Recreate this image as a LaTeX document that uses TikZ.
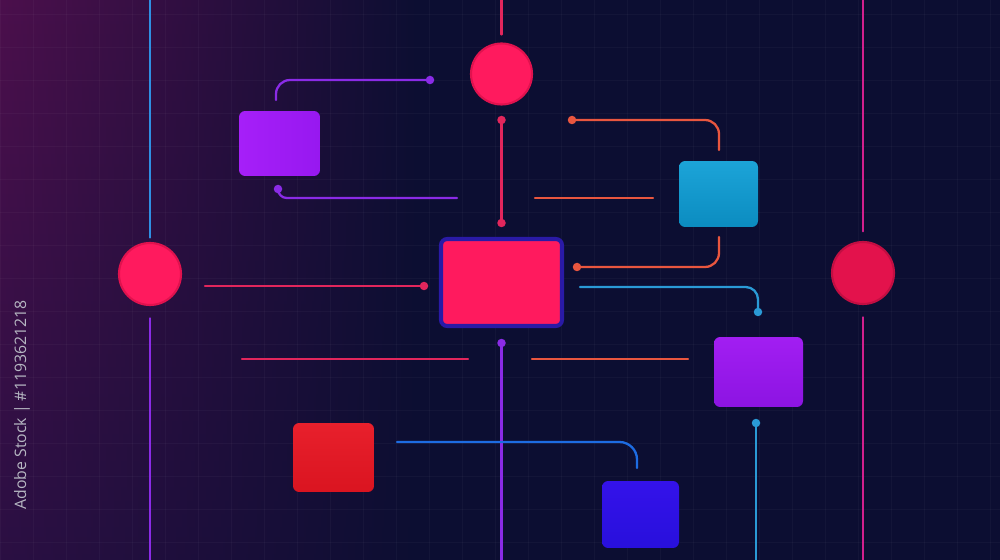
\documentclass[tikz,border=0pt]{standalone}
\usepackage{fontspec}
\newfontfamily\stampfont{Open Sans}
\definecolor{navy}{HTML}{0C0E32}
\definecolor{plumtop}{HTML}{5E1054}
\definecolor{plumbot}{HTML}{341048}
\definecolor{hotpink}{HTML}{FF1A5E}
\definecolor{pinkrim}{HTML}{E0124E}
\definecolor{crimson}{HTML}{E3124C}
\definecolor{crimrim}{HTML}{C20E42}
\definecolor{rim}{HTML}{2A1AA6}
\definecolor{violetA}{HTML}{A61FF8}
\definecolor{violetB}{HTML}{9718F0}
\definecolor{skyA}{HTML}{1CA4D8}
\definecolor{skyB}{HTML}{0B8CC0}
\definecolor{purpA}{HTML}{A21EF2}
\definecolor{purpB}{HTML}{8C14E2}
\definecolor{rubyA}{HTML}{E8202C}
\definecolor{rubyB}{HTML}{DA1420}
\definecolor{indigoA}{HTML}{3412EA}
\definecolor{indigoB}{HTML}{2810DC}
\definecolor{wireblue}{HTML}{2F8FE3}
\definecolor{wirevio}{HTML}{8A2BE6}
\definecolor{wirepink}{HTML}{E2265C}
\definecolor{wireorange}{HTML}{E9563F}
\definecolor{wirecyan}{HTML}{2A9AD6}
\definecolor{wiremag}{HTML}{D2208E}
\usetikzlibrary{calc,fadings}
\tikzset{
  disc/.style={circle, inner sep=0pt, minimum size=1.24cm, fill=hotpink, draw=pinkrim, line width=1.2pt},
  card/.style={rectangle, rounded corners=3.5pt, inner sep=0pt},
  wire/.style={line width=1.3pt, line cap=round},
  elbow/.style={wire, rounded corners=#1},
  pin/.style={circle, inner sep=0pt, minimum size=0.17cm, fill=#1},
  gridline/.style={white, opacity=0.03, line width=0.4pt}
}
\begin{document}
\begin{tikzpicture}[x=0.02cm,y=-0.02cm]
  \useasboundingbox (0,0) rectangle (1000,560);
  \fill[navy] (0,0) rectangle (1000,560);
  \shade[top color=plumtop, bottom color=plumbot, path fading=east] (-120,0) rectangle (420,560);
  \foreach \gx in {0,33,...,1000}
    \draw[gridline] (\gx,0) -- (\gx,560);
  \foreach \gy in {14,47,...,560}
    \draw[gridline] (0,\gy) -- (1000,\gy);

  % circles and boxes
  \node[disc] (lcirc) at (150,274) {};
  \node[disc, minimum size=1.22cm] (tcirc) at (501.5,74) {};
  \node[disc, fill=crimson, draw=crimrim] (rcirc) at (863,273) {};
  \node[card, fill=hotpink, draw=rim, line width=2.3pt,
        minimum width=2.42cm, minimum height=1.74cm] (hub) at (501.5,282.5) {};
  \node[card, left color=violetA, right color=violetB, minimum width=1.62cm, minimum height=1.3cm] (vbox) at (279.5,143.5) {};
  \node[card, top color=skyA, bottom color=skyB, minimum width=1.58cm, minimum height=1.32cm] (cbox) at (718.5,194) {};
  \node[card, top color=purpA, bottom color=purpB, minimum width=1.78cm, minimum height=1.4cm] (pbox) at (758.5,372) {};
  \node[card, top color=rubyA, bottom color=rubyB, minimum width=1.62cm, minimum height=1.38cm] (rbox) at (333.5,457.5) {};
  \node[card, top color=indigoA, bottom color=indigoB, minimum width=1.54cm, minimum height=1.34cm] (bbox) at (640.5,514.5) {};

  % pins and loose ends
  \node[pin=wirevio] (p1) at (430,80) {};
  \node[pin=wirevio] (p2) at (278,189) {};
  \node[pin=wirepink] (p3) at (424,286) {};
  \node[pin=wirepink] (p4) at (501.5,120) {};
  \node[pin=wirepink] (p5) at (501.5,223) {};
  \node[pin=wireorange] (p6) at (572,120) {};
  \node[pin=wireorange] (p7) at (577,267) {};
  \node[pin=wirecyan] (p8) at (758,312) {};
  \node[pin=wirevio] (p9) at (501.5,343) {};
  \node[pin=wirecyan] (p10) at (756,423) {};
  \coordinate (ltop) at (150,0);
  \coordinate (lbot) at (150,560);
  \coordinate (ttop) at (501.5,0);
  \coordinate (rtop) at (863,0);
  \coordinate (rbot) at (863,560);
  \coordinate (c1) at (276,100);
  \coordinate (c2) at (457,198);
  \coordinate (c3) at (205,286);
  \coordinate (c4) at (719,150);
  \coordinate (c5) at (719,237);
  \coordinate (c6) at (535,198);
  \coordinate (c7) at (653,198);
  \coordinate (c8) at (580,287);
  \coordinate (c9) at (242,359);
  \coordinate (c10) at (468,359);
  \coordinate (c11) at (532,359);
  \coordinate (c12) at (688,359);
  \coordinate (c13) at (397,442);
  \coordinate (c14) at (637,468);
  \coordinate (c15) at (501.5,560);
  \coordinate (c16) at (756,560);

  \begin{scope}[wire]
    \draw[wireblue, shorten >=2.5pt] (ltop) -- (lcirc);
    \draw[wirevio, shorten <=7pt] (lcirc) -- (lbot);
    \draw[wirepink, shorten >=4.5pt] (ttop) -- (tcirc);
    \draw[wiremag, shorten >=5.5pt] (rtop) -- (rcirc);
    \draw[wiremag, shorten <=7pt] (rcirc) -- (rbot);
    \draw[wirepink] (p4.center) -- (p5.center);
    \draw[wirepink] (c3) -- (p3.center);
    \draw[wirevio] (p9.center) -- (c15);
    \draw[wirecyan] (p10.center) -- (c16);
    \draw[wireorange] (c6) -- (c7);
    \draw[wirepink] (c9) -- (c10);
    \draw[wireorange] (c11) -- (c12);
    \draw[elbow=8pt, wirevio] (c1) |- (p1.center);
    \draw[elbow=5pt, wirevio] (p2.center) |- (c2);
    \draw[elbow=8pt, wireorange] (p6.center) -| (c4);
    \draw[elbow=8pt, wireorange] (c5) |- (p7.center);
    \draw[elbow=7pt, wirecyan] (c8) -| (p8.center);
    \draw[elbow=10pt, wirecyan!70!blue] (c13) -| (c14);
  \end{scope}

  \node[rotate=90, text=white!70!navy, font=\stampfont\fontsize{9}{10}\selectfont] (stamp) at (22,405) {Adobe Stock | \#1193621218};
\end{tikzpicture}
\end{document}
